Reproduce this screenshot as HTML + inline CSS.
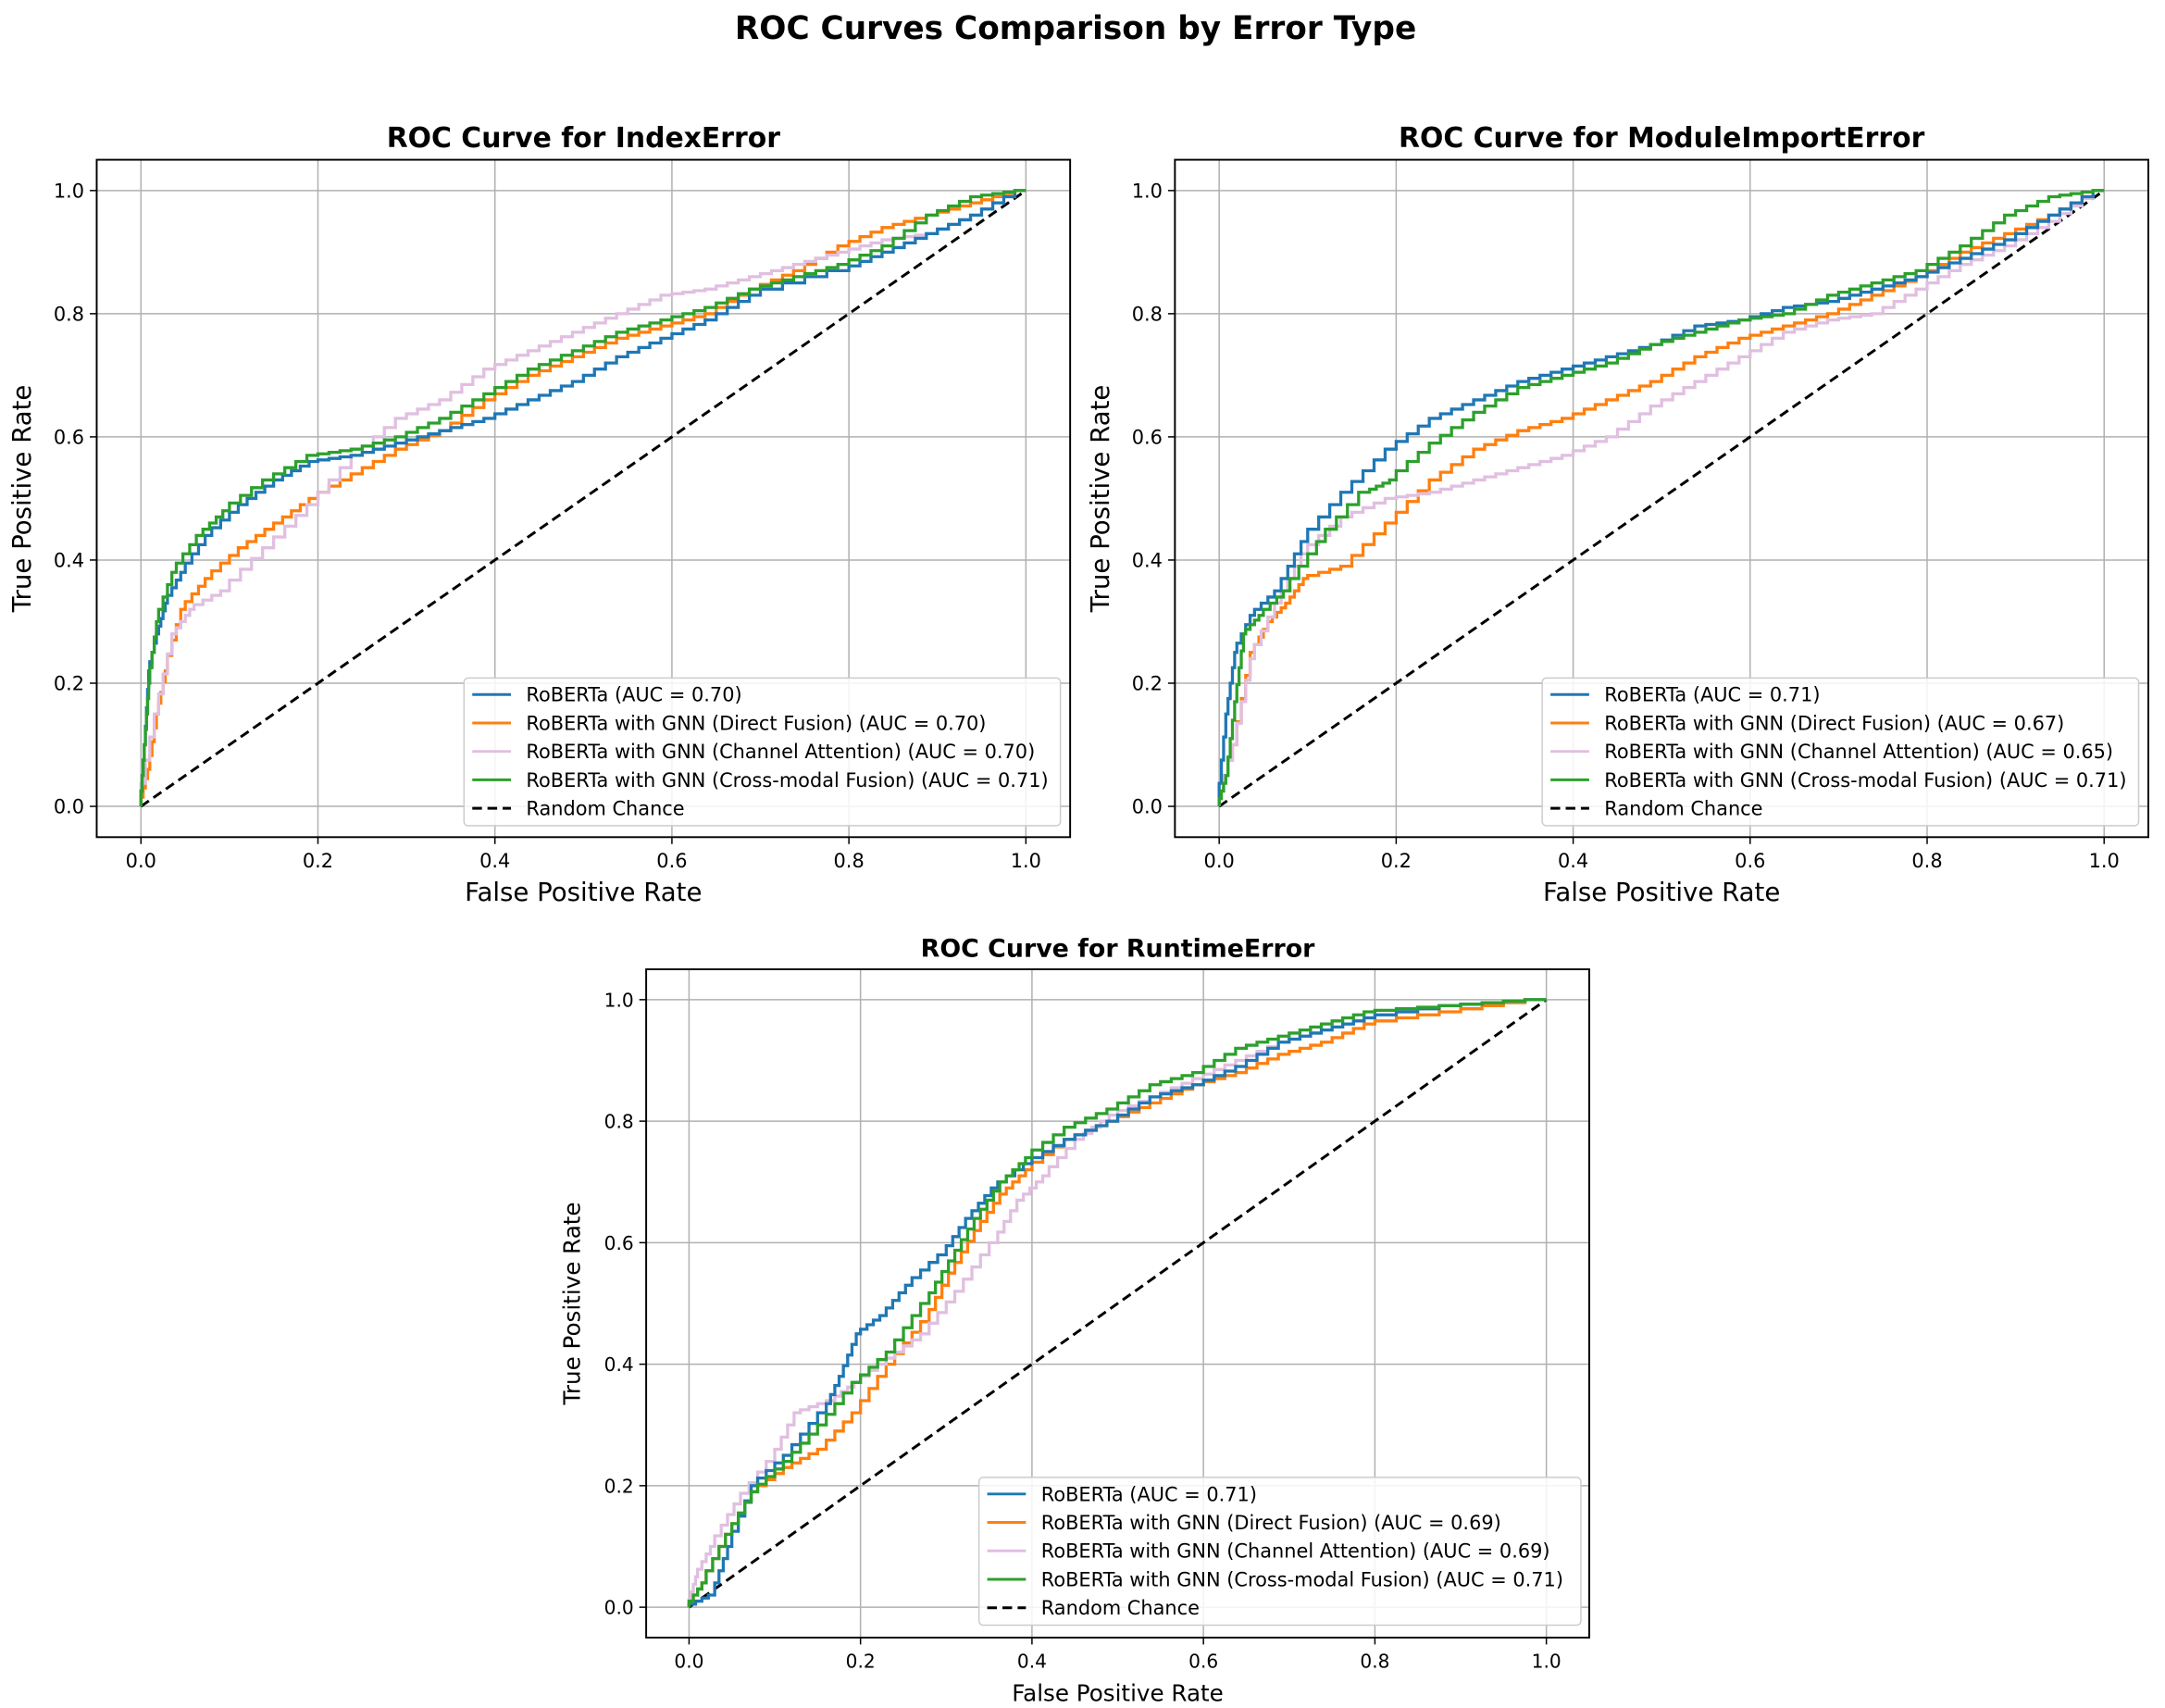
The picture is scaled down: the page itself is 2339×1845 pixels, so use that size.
<!DOCTYPE html>
<html><head><meta charset="utf-8"><style>body{margin:0;background:#fff}svg{display:block}text{font-family:"DejaVu Sans","Liberation Sans",sans-serif}</style></head>
<body>
<svg id="s" width="2339" height="1845" viewBox="0 0 1568 1237" xmlns="http://www.w3.org/2000/svg">
<rect width="1568" height="1237" fill="#fff"/>
<text x="779" y="28" text-anchor="middle" font-size="23" font-weight="bold">ROC Curves Comparison by Error Type</text>
</svg>
<script>
const S=document.getElementById('s');const NS='http://www.w3.org/2000/svg';
function el(t,a,txt){const e=document.createElementNS(NS,t);for(const k in a)e.setAttribute(k,a[k]);if(txt!==undefined)e.textContent=txt;S.appendChild(e);return e;}
const C=['#1f77b4','#ff7f0e','#e0bfe0','#2ca02c'];
function panel(p){
 const w=p.x1-p.x0,h=p.y0-p.y1;const X=v=>p.x0+v*w,Y=v=>p.y0-v*h;
 const fl=X(-0.05),fr=X(1.05),ft=Y(1.05),fb=Y(-0.05);
 for(let i=0;i<=5;i++){const v=i/5;
  el('line',{x1:X(v),x2:X(v),y1:ft,y2:fb,stroke:'#b0b0b0','stroke-width':1});
  el('line',{x1:fl,x2:fr,y1:Y(v),y2:Y(v),stroke:'#b0b0b0','stroke-width':1});
  el('line',{x1:X(v),x2:X(v),y1:fb,y2:fb+5,stroke:'#000','stroke-width':1});
  el('line',{x1:fl-5,x2:fl,y1:Y(v),y2:Y(v),stroke:'#000','stroke-width':1});
  el('text',{x:X(v),y:fb+22,'text-anchor':'middle','font-size':p.tf},v.toFixed(1));
  el('text',{x:fl-9,y:Y(v)+5,'text-anchor':'end','font-size':p.tf},v.toFixed(1));
 }
 el('line',{x1:X(0),y1:Y(0),x2:X(1),y2:Y(1),stroke:'#000','stroke-width':2,'stroke-dasharray':'7,4'});
 [1,2,0,3].forEach(i=>{const d=p.d[i];let s='M'+X(d[0][0])+','+Y(d[0][1]);
  for(let k=1;k<d.length;k++){const[a,b]=d[k];
   const n=4;for(let j=1;j<=n;j++){const xa=d[k-1][0]+(a-d[k-1][0])*j/n,yb=d[k-1][1]+(b-d[k-1][1])*j/n;const xp=d[k-1][0]+(a-d[k-1][0])*(j-1)/n;
    s+=' L'+X(xp).toFixed(1)+','+Y(yb).toFixed(1)+' L'+X(xa).toFixed(1)+','+Y(yb).toFixed(1);}}
  el('path',{d:s,fill:'none',stroke:C[i],'stroke-width':2.2});});
 el('rect',{x:fl,y:ft,width:fr-fl,height:fb-ft,fill:'none',stroke:'#000','stroke-width':1.3});
 el('text',{x:(fl+fr)/2,y:ft-9,'text-anchor':'middle','font-size':p.ttf,'font-weight':'bold'},p.title);
 el('text',{x:(fl+fr)/2,y:fb+46,'text-anchor':'middle','font-size':p.lf},'False Positive Rate');
 el('text',{x:0,y:0,'text-anchor':'middle','font-size':p.lf,transform:`translate(${fl-48},${(ft+fb)/2}) rotate(-90)`},'True Positive Rate');
 const L=p.lg;el('rect',{x:L.x,y:L.y,width:L.w,height:107,fill:'#fff','fill-opacity':0.85,stroke:'#ccc',rx:3});
 const labs=['RoBERTa (AUC = '+p.a[0]+')','RoBERTa with GNN (Direct Fusion) (AUC = '+p.a[1]+')','RoBERTa with GNN (Channel Attention) (AUC = '+p.a[2]+')','RoBERTa with GNN (Cross-modal Fusion) (AUC = '+p.a[3]+')','Random Chance'];
 labs.forEach((s,i)=>{const yy=L.y+12+i*20.6;
  el('line',{x1:L.x+6,x2:L.x+34,y1:yy,y2:yy,stroke:i<4?C[i]:'#000','stroke-width':2,'stroke-dasharray':i<4?'none':'7,4'});
  el('text',{x:L.x+45,y:yy+5,'font-size':14},s);});
}
const D1=[[[0,0],[0.005,0.1],[0.01,0.22],[0.02,0.28],[0.03,0.33],[0.05,0.38],[0.08,0.44],[0.12,0.49],[0.16,0.53],[0.2,0.56],[0.25,0.57],[0.3,0.59],[0.35,0.61],[0.4,0.63],[0.45,0.66],[0.5,0.69],[0.55,0.73],[0.6,0.76],[0.65,0.79],[0.7,0.83],[0.8,0.87],[0.85,0.9],[0.9,0.93],[0.95,0.96],[1,1]],
[[0,0],[0.01,0.06],[0.02,0.15],[0.03,0.22],[0.05,0.32],[0.08,0.37],[0.12,0.42],[0.16,0.46],[0.2,0.5],[0.25,0.54],[0.3,0.58],[0.35,0.61],[0.4,0.66],[0.45,0.7],[0.5,0.73],[0.55,0.76],[0.6,0.78],[0.65,0.8],[0.7,0.84],[0.75,0.87],[0.8,0.91],[0.85,0.94],[0.9,0.96],[0.95,0.98],[1,1]],
[[0,0],[0.02,0.15],[0.04,0.28],[0.06,0.32],[0.1,0.35],[0.15,0.42],[0.2,0.49],[0.25,0.57],[0.3,0.63],[0.35,0.66],[0.4,0.71],[0.45,0.74],[0.5,0.77],[0.55,0.8],[0.6,0.83],[0.65,0.84],[0.7,0.86],[0.75,0.88],[0.8,0.9],[0.85,0.92],[0.9,0.93],[0.95,0.96],[1,1]],
[[0,0],[0.005,0.1],[0.01,0.2],[0.02,0.3],[0.04,0.38],[0.07,0.44],[0.1,0.48],[0.15,0.53],[0.2,0.57],[0.25,0.58],[0.3,0.6],[0.35,0.63],[0.4,0.67],[0.45,0.71],[0.5,0.74],[0.55,0.77],[0.6,0.79],[0.65,0.81],[0.7,0.84],[0.75,0.86],[0.8,0.88],[0.85,0.91],[0.9,0.96],[0.95,0.99],[1,1]]];
const D2=[[[0,0],[0.01,0.15],[0.02,0.25],[0.04,0.31],[0.07,0.35],[0.1,0.43],[0.15,0.51],[0.2,0.58],[0.25,0.63],[0.3,0.66],[0.35,0.69],[0.4,0.71],[0.45,0.73],[0.5,0.75],[0.55,0.78],[0.6,0.79],[0.65,0.81],[0.7,0.82],[0.75,0.84],[0.8,0.86],[0.85,0.89],[0.9,0.92],[0.95,0.96],[1,1]],
[[0,0],[0.02,0.1],[0.04,0.25],[0.06,0.3],[0.08,0.33],[0.1,0.37],[0.15,0.39],[0.2,0.46],[0.25,0.53],[0.3,0.58],[0.35,0.61],[0.4,0.63],[0.45,0.66],[0.5,0.69],[0.55,0.73],[0.6,0.76],[0.65,0.78],[0.7,0.8],[0.75,0.83],[0.8,0.86],[0.85,0.9],[0.9,0.93],[0.95,0.96],[1,1]],
[[0,0],[0.02,0.1],[0.04,0.24],[0.07,0.33],[0.1,0.41],[0.15,0.47],[0.2,0.5],[0.25,0.51],[0.3,0.53],[0.35,0.55],[0.4,0.57],[0.45,0.6],[0.5,0.65],[0.55,0.69],[0.6,0.73],[0.65,0.77],[0.7,0.79],[0.75,0.8],[0.8,0.84],[0.85,0.88],[0.9,0.91],[0.95,0.95],[1,1]],
[[0,0],[0.01,0.05],[0.02,0.17],[0.03,0.28],[0.05,0.31],[0.08,0.35],[0.12,0.43],[0.17,0.51],[0.2,0.53],[0.25,0.59],[0.3,0.64],[0.35,0.68],[0.4,0.7],[0.45,0.72],[0.5,0.75],[0.55,0.77],[0.6,0.79],[0.65,0.8],[0.7,0.83],[0.75,0.85],[0.8,0.87],[0.85,0.91],[0.9,0.96],[0.95,0.99],[1,1]]];
const D3=[[[0,0],[0.03,0.02],[0.05,0.1],[0.08,0.2],[0.12,0.25],[0.16,0.32],[0.18,0.38],[0.2,0.45],[0.23,0.48],[0.26,0.53],[0.3,0.58],[0.33,0.64],[0.36,0.69],[0.4,0.73],[0.45,0.77],[0.5,0.8],[0.55,0.84],[0.6,0.86],[0.65,0.89],[0.7,0.93],[0.75,0.95],[0.8,0.97],[0.9,0.99],[1,1]],
[[0,0],[0.02,0.04],[0.05,0.12],[0.08,0.19],[0.12,0.23],[0.16,0.26],[0.2,0.32],[0.24,0.4],[0.28,0.47],[0.31,0.55],[0.34,0.62],[0.37,0.68],[0.4,0.72],[0.45,0.77],[0.5,0.8],[0.55,0.83],[0.6,0.86],[0.65,0.88],[0.7,0.91],[0.75,0.93],[0.8,0.96],[0.9,0.98],[1,1]],
[[0,0],[0.01,0.05],[0.03,0.1],[0.06,0.17],[0.1,0.24],[0.13,0.32],[0.17,0.34],[0.2,0.37],[0.24,0.41],[0.28,0.45],[0.32,0.52],[0.36,0.6],[0.39,0.67],[0.42,0.71],[0.46,0.77],[0.5,0.81],[0.55,0.84],[0.6,0.87],[0.65,0.9],[0.7,0.93],[0.75,0.95],[0.8,0.97],[0.9,0.99],[1,1]],
[[0,0],[0.02,0.04],[0.05,0.12],[0.08,0.19],[0.12,0.24],[0.16,0.3],[0.2,0.37],[0.24,0.42],[0.28,0.5],[0.31,0.57],[0.34,0.64],[0.37,0.7],[0.4,0.74],[0.45,0.79],[0.5,0.82],[0.55,0.86],[0.6,0.88],[0.65,0.92],[0.7,0.94],[0.75,0.96],[0.8,0.98],[0.9,0.99],[1,1]]];
panel({x0:102,x1:743,y0:584,y1:138,tf:14,lf:18.5,ttf:20,title:'ROC Curve for IndexError',d:D1,a:['0.70','0.70','0.70','0.71'],lg:{x:336,y:491,w:432}});
panel({x0:883,x1:1524,y0:584,y1:138,tf:14,lf:18.5,ttf:20,title:'ROC Curve for ModuleImportError',d:D2,a:['0.71','0.67','0.65','0.71'],lg:{x:1117,y:491,w:432}});
panel({x0:499,x1:1120,y0:1164,y1:724,tf:13.5,lf:16.5,ttf:18,title:'ROC Curve for RuntimeError',d:D3,a:['0.71','0.69','0.69','0.71'],lg:{x:709,y:1070,w:436}});
</script>
</body></html>
